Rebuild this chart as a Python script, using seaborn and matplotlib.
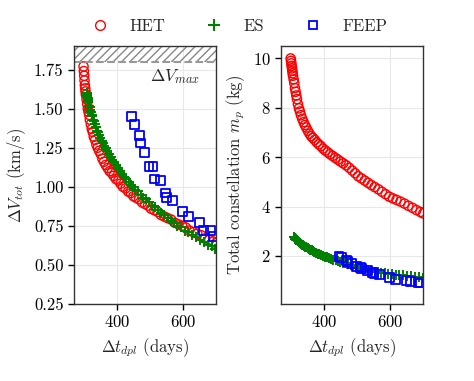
import matplotlib
matplotlib.use("Agg")
import matplotlib.pyplot as plt
from matplotlib.lines import Line2D
import numpy as np
import pandas as pd
import seaborn as sns

# deployment time (days), delta-V (km/s) and constellation propellant mass (kg)
het_t = [299, 300, 301, 302, 303, 304, 305, 306, 308, 310, 312, 314, 316, 318, 321, 324, 327, 330,
         334, 338, 342, 346, 351, 356, 361, 366, 372, 378, 384, 390, 397, 404, 411, 418, 426, 434,
         442, 450, 458, 467, 476, 485, 494, 503, 513, 523, 533, 543, 553, 564, 575, 586, 597, 608,
         619, 631, 643, 655, 667, 679, 691, 700]
het_dv = [1.77, 1.74, 1.71, 1.68, 1.65, 1.63, 1.61, 1.59, 1.56, 1.53, 1.50, 1.48, 1.46, 1.43, 1.40,
          1.37, 1.35, 1.32, 1.30, 1.27, 1.25, 1.23, 1.21, 1.18, 1.16, 1.14, 1.12, 1.10, 1.09, 1.07,
          1.05, 1.04, 1.02, 1.00, 0.99, 0.97, 0.96, 0.94, 0.93, 0.92, 0.90, 0.89, 0.88, 0.86, 0.85,
          0.84, 0.82, 0.81, 0.80, 0.79, 0.77, 0.76, 0.75, 0.74, 0.72, 0.71, 0.70, 0.69, 0.67, 0.66,
          0.65, 0.64]
het_mp = [10.0, 9.9, 9.8, 9.7, 9.6, 9.5, 9.4, 9.3, 9.15, 9.0, 8.8, 8.65, 8.5, 8.35, 8.15, 7.98,
          7.85, 7.7, 7.55, 7.42, 7.3, 7.2, 7.07, 6.95, 6.85, 6.78, 6.7, 6.6, 6.52, 6.45, 6.35, 6.27,
          6.2, 6.12, 6.05, 5.97, 5.9, 5.82, 5.75, 5.67, 5.57, 5.46, 5.35, 5.23, 5.14, 5.05, 4.96,
          4.87, 4.79, 4.7, 4.6, 4.5, 4.4, 4.33, 4.27, 4.2, 4.12, 4.03, 3.95, 3.86, 3.78, 3.72]

es_t = [308, 309, 310, 311, 312, 313, 314, 316, 318, 320, 322, 324, 326, 328, 331, 334, 337, 340,
        343, 346, 350, 354, 358, 362, 366, 371, 376, 381, 386, 391, 397, 403, 409, 415, 421, 428,
        435, 442, 449, 456, 464, 472, 480, 488, 497, 506, 515, 524, 533, 543, 553, 563, 573, 583,
        594, 605, 616, 627, 638, 650, 662, 674, 686, 698]
es_dv = [1.60, 1.59, 1.58, 1.57, 1.56, 1.55, 1.54, 1.52, 1.51, 1.49, 1.48, 1.46, 1.45, 1.43, 1.42,
         1.40, 1.38, 1.36, 1.35, 1.33, 1.31, 1.29, 1.28, 1.26, 1.25, 1.23, 1.21, 1.19, 1.17, 1.16,
         1.14, 1.12, 1.10, 1.08, 1.06, 1.05, 1.03, 1.01, 1.00, 0.98, 0.97, 0.95, 0.93, 0.92, 0.90,
         0.88, 0.87, 0.85, 0.83, 0.82, 0.80, 0.78, 0.77, 0.75, 0.74, 0.72, 0.71, 0.69, 0.68, 0.66,
         0.65, 0.63, 0.62, 0.60]
es_mp = [2.78, 2.76, 2.75, 2.73, 2.72, 2.70, 2.69, 2.66, 2.64, 2.61, 2.59, 2.56, 2.54, 2.52, 2.49,
         2.46, 2.43, 2.40, 2.37, 2.35, 2.31, 2.28, 2.25, 2.22, 2.19, 2.15, 2.12, 2.09, 2.06, 2.03,
         2.00, 1.97, 1.94, 1.91, 1.88, 1.85, 1.82, 1.79, 1.76, 1.73, 1.70, 1.67, 1.64, 1.61, 1.58,
         1.52, 1.49, 1.46, 1.43, 1.40, 1.36, 1.34, 1.32, 1.30, 1.28, 1.26, 1.24, 1.23, 1.21, 1.19,
         1.18, 1.16, 1.14, 1.12]

feep_t = [445, 452, 469, 471, 483, 497, 509, 514, 532, 546, 551, 567, 598, 616, 650, 662, 684, 692]
feep_dv = [1.45, 1.40, 1.33, 1.28, 1.22, 1.13, 1.13, 1.05, 1.04, 0.96, 0.93, 0.91, 0.84, 0.81,
           0.77, 0.72, 0.72, 0.68]
feep_mp = [1.98, 1.92, 1.80, 1.78, 1.68, 1.58, 1.52, 1.50, 1.40, 1.33, 1.30, 1.24, 1.12, 1.06,
           1.00, 0.97, 0.91, 0.90]

labels = ["HET", "ES", "FEEP"]
dv_max = 1.8

sns.set_style("ticks")
plt.rcParams["font.family"] = ["cmr10"]
plt.rcParams["mathtext.fontset"] = "cm"
plt.rcParams["axes.formatter.use_mathtext"] = True
plt.rcParams["font.size"] = 12
plt.rcParams["axes.unicode_minus"] = False

df = pd.concat([
    pd.DataFrame({"t": het_t, "dv": het_dv, "mp": het_mp, "prop": "HET"}),
    pd.DataFrame({"t": es_t, "dv": es_dv, "mp": es_mp, "prop": "ES"}),
    pd.DataFrame({"t": feep_t, "dv": feep_dv, "mp": feep_mp, "prop": "FEEP"}),
])

styles = {
    "HET": dict(marker="o", facecolor="none", edgecolor="#ff0000", linewidth=1.0, s=44),
    "ES": dict(marker="+", color="#008000", linewidth=1.4, s=60),
    "FEEP": dict(marker="s", facecolor="none", edgecolor="#0000ff", linewidth=1.3, s=40),
}

fig = plt.figure(figsize=(4.74, 3.81), dpi=100)
ax1 = fig.add_axes([0.156, 0.202, 0.300, 0.677])
ax2 = fig.add_axes([0.593, 0.202, 0.300, 0.677])

for p in labels:
    sub = df[df["prop"] == p]
    sns.scatterplot(data=sub, x="t", y="dv", ax=ax1, legend=False, **styles[p])
    sns.scatterplot(data=sub, x="t", y="mp", ax=ax2, legend=False, **styles[p])

# forbidden zone above the max delta-V
ax1.axhspan(dv_max, 1.9, facecolor="none", edgecolor="#888888", hatch="////", linewidth=0)
ax1.axhline(dv_max, color="#999999", linestyle="--", linewidth=1.5)
ax1.text(652, 1.765, r"$\Delta V_{max}$", ha="right", va="top", fontsize=12.5)

ax1.set_xlim(270, 700)
ax1.set_ylim(0.25, 1.9)
ax1.set_yticks(np.arange(0.25, 1.76, 0.25))
ax1.set_yticklabels([f"{v:.2f}" for v in np.arange(0.25, 1.76, 0.25)])
ax1.set_xticks([400, 600])
ax1.set_xlabel(r"$\Delta t_{dpl}$ (days)")
ax1.set_ylabel(r"$\Delta V_{tot}$ (km/s)")

ax2.set_xlim(270, 700)
ax2.set_ylim(0.05, 10.5)
ax2.set_yticks([2, 4, 6, 8, 10])
ax2.set_xticks([400, 600])
ax2.set_xlabel(r"$\Delta t_{dpl}$ (days)")
ax2.set_ylabel(r"Total constellation $m_p$ (kg)")

for ax in (ax1, ax2):
    ax.grid(True, color="#e8e8e8", linewidth=0.8)
    ax.set_axisbelow(True)
    for sp in ax.spines.values():
        sp.set_visible(True)
        sp.set_color("#333333")
        sp.set_linewidth(1.0)
    ax.tick_params(direction="out", length=4, width=1.0, colors="black")

handles = [
    Line2D([], [], linestyle="none", marker="o", markerfacecolor="none", markeredgecolor="#ff0000", markersize=7),
    Line2D([], [], linestyle="none", marker="+", color="#008000", markersize=9, markeredgewidth=1.5),
    Line2D([], [], linestyle="none", marker="s", markerfacecolor="none", markeredgecolor="#0000ff", markersize=6, markeredgewidth=1.3),
]
fig.legend(handles, labels, loc="upper center", bbox_to_anchor=(0.505, 0.99), ncol=3, frameon=False,
           handlelength=1.0, handletextpad=1.3, columnspacing=2.4, fontsize=12)

fig.savefig("out.png", dpi=100)
